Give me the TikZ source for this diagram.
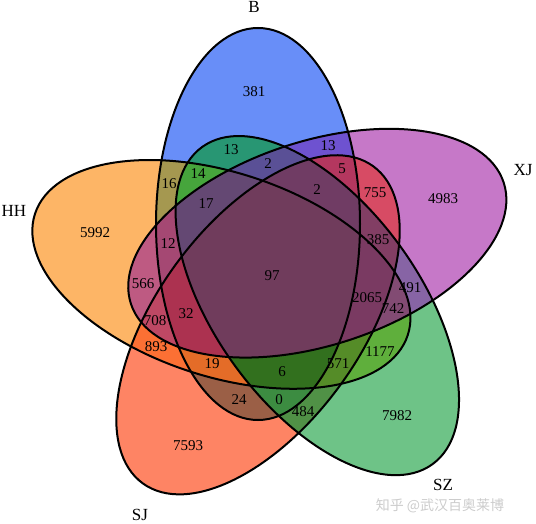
\documentclass[tikz,border=0pt]{standalone}
\usepackage{fontspec}
\setmainfont{Liberation Serif}
\newfontfamily\cjkfont{Noto Sans CJK SC}
\definecolor{rB}{RGB}{104,142,248}
\definecolor{rH}{RGB}{253,181,102}
\definecolor{rX}{RGB}{198,120,200}
\definecolor{rZ}{RGB}{110,195,135}
\definecolor{rJ}{RGB}{254,132,100}
\definecolor{rBH}{RGB}{165,152,80}
\definecolor{rBX}{RGB}{110,82,208}
\definecolor{rBZ}{RGB}{40,150,115}
\definecolor{rBJ}{RGB}{155,95,70}
\definecolor{rHX}{RGB}{190,90,130}
\definecolor{rHZ}{RGB}{95,175,60}
\definecolor{rHJ}{RGB}{252,112,52}
\definecolor{rXZ}{RGB}{135,100,165}
\definecolor{rXJ}{RGB}{215,75,100}
\definecolor{rZJ}{RGB}{80,145,70}
\definecolor{rBHX}{RGB}{165,72,115}
\definecolor{rBHZ}{RGB}{70,165,60}
\definecolor{rBHJ}{RGB}{228,108,40}
\definecolor{rBXZ}{RGB}{90,80,150}
\definecolor{rBXJ}{RGB}{180,55,95}
\definecolor{rBZJ}{RGB}{60,140,65}
\definecolor{rHXZ}{RGB}{130,75,115}
\definecolor{rHXJ}{RGB}{190,72,100}
\definecolor{rHZJ}{RGB}{85,140,40}
\definecolor{rXZJ}{RGB}{130,62,100}
\definecolor{rBHXZ}{RGB}{100,72,115}
\definecolor{rBHXJ}{RGB}{172,50,80}
\definecolor{rBHZJ}{RGB}{50,112,30}
\definecolor{rBXZJ}{RGB}{112,60,100}
\definecolor{rHXZJ}{RGB}{122,58,98}
\definecolor{rAll}{RGB}{112,60,92}
\newcommand\EL[3]{\path[#3,rotate around={#2:(#1)}] (#1) ellipse [x radius=196, y radius=102];}
\newcommand\eB[1]{\EL{cB}{90}{#1}}
\newcommand\eX[1]{\EL{cX}{18}{#1}}
\newcommand\eZ[1]{\EL{cZ}{-54}{#1}}
\newcommand\eJ[1]{\EL{cJ}{-126}{#1}}
\newcommand\eH[1]{\EL{cH}{162}{#1}}
\newcommand\rg[3]{\begin{scope}#1#2\fill[#3] (0,0) rectangle (536,523);\end{scope}}
\begin{document}
\begin{tikzpicture}[x=1pt,y=1pt,
  num/.style={font=\fontsize{15}{15}\selectfont, inner sep=0pt},
  setlabel/.style={font=\fontsize{17}{17}\selectfont, inner sep=0pt},
  outline/.style={draw=black, line width=2pt}]
\useasboundingbox (0,0) rectangle (536,523);
\coordinate (cB) at (258.0,299.0);
\coordinate (cX) at (317.3,279.8);
\coordinate (cZ) at (317.3,217.4);
\coordinate (cJ) at (258.0,198.2);
\coordinate (cH) at (221.4,248.6);
% single sets
\eB{fill=rB}\eH{fill=rH}\eX{fill=rX}\eZ{fill=rZ}\eJ{fill=rJ}
% pairs
\rg{\eB{clip}}{\eH{clip}}{rBH}
\rg{\eB{clip}}{\eX{clip}}{rBX}
\rg{\eB{clip}}{\eZ{clip}}{rBZ}
\rg{\eB{clip}}{\eJ{clip}}{rBJ}
\rg{\eH{clip}}{\eX{clip}}{rHX}
\rg{\eH{clip}}{\eZ{clip}}{rHZ}
\rg{\eH{clip}}{\eJ{clip}}{rHJ}
\rg{\eX{clip}}{\eZ{clip}}{rXZ}
\rg{\eX{clip}}{\eJ{clip}}{rXJ}
\rg{\eZ{clip}}{\eJ{clip}}{rZJ}
% triples
\rg{\eB{clip}\eH{clip}}{\eX{clip}}{rBHX}
\rg{\eB{clip}\eH{clip}}{\eZ{clip}}{rBHZ}
\rg{\eB{clip}\eH{clip}}{\eJ{clip}}{rBHJ}
\rg{\eB{clip}\eX{clip}}{\eZ{clip}}{rBXZ}
\rg{\eB{clip}\eX{clip}}{\eJ{clip}}{rBXJ}
\rg{\eB{clip}\eZ{clip}}{\eJ{clip}}{rBZJ}
\rg{\eH{clip}\eX{clip}}{\eZ{clip}}{rHXZ}
\rg{\eH{clip}\eX{clip}}{\eJ{clip}}{rHXJ}
\rg{\eH{clip}\eZ{clip}}{\eJ{clip}}{rHZJ}
\rg{\eX{clip}\eZ{clip}}{\eJ{clip}}{rXZJ}
% quadruples
\rg{\eB{clip}\eH{clip}}{\eX{clip}\eZ{clip}}{rBHXZ}
\rg{\eB{clip}\eH{clip}}{\eX{clip}\eJ{clip}}{rBHXJ}
\rg{\eB{clip}\eH{clip}}{\eZ{clip}\eJ{clip}}{rBHZJ}
\rg{\eB{clip}\eX{clip}}{\eZ{clip}\eJ{clip}}{rBXZJ}
\rg{\eH{clip}\eX{clip}}{\eZ{clip}\eJ{clip}}{rHXZJ}
% all five
\rg{\eB{clip}\eH{clip}\eX{clip}}{\eZ{clip}\eJ{clip}}{rAll}
% outlines
\eB{outline}\eH{outline}\eX{outline}\eZ{outline}\eJ{outline}
% numbers
\node[num] (n381) at (254,431) {381};
\node[num] (n13g) at (231,373) {13};
\node[num] (n13v) at (328,377) {13};
\node[num] (n16) at (169,339) {16};
\node[num] (n14) at (198,349) {14};
\node[num] (n2a) at (268,359) {2};
\node[num] (n2b) at (317,333) {2};
\node[num] (n5) at (342,354) {5};
\node[num] (n755) at (375,330) {755};
\node[num] (n4983) at (443,324) {4983};
\node[num] (n17) at (206,319) {17};
\node[num] (n5992) at (95,290) {5992};
\node[num] (n12) at (168,279) {12};
\node[num] (n385) at (378,283) {385};
\node[num] (n97) at (272,247) {97};
\node[num] (n566) at (143,239) {566};
\node[num] (n491) at (410,235) {491};
\node[num] (n2065) at (367,225) {2065};
\node[num] (n742) at (393,214) {742};
\node[num] (n708) at (155,202) {708};
\node[num] (n32) at (186,209) {32};
\node[num] (n893) at (156,176) {893};
\node[num] (n1177) at (380,171) {1177};
\node[num] (n19) at (212,159) {19};
\node[num] (n571) at (338,159) {571};
\node[num] (n6) at (282,151) {6};
\node[num] (n24) at (239,123) {24};
\node[num] (n0) at (279,123) {0};
\node[num] (n484) at (303,111) {484};
\node[num] (n7982) at (397,107) {7982};
\node[num] (n7593) at (188,77) {7593};
% set labels
\node[setlabel] (lB) at (254,516) {B};
\node[setlabel] (lHH) at (14,312) {HH};
\node[setlabel] (lXJ) at (523,353) {XJ};
\node[setlabel] (lSZ) at (443,38) {SZ};
\node[setlabel] (lSJ) at (140,8) {SJ};
% watermark
\node[font=\cjkfont\fontsize{14}{14}\selectfont, text=black!20, inner sep=0pt] (wm) at (440,17) {知乎 @武汉百奥莱博};
\end{tikzpicture}
\end{document}
